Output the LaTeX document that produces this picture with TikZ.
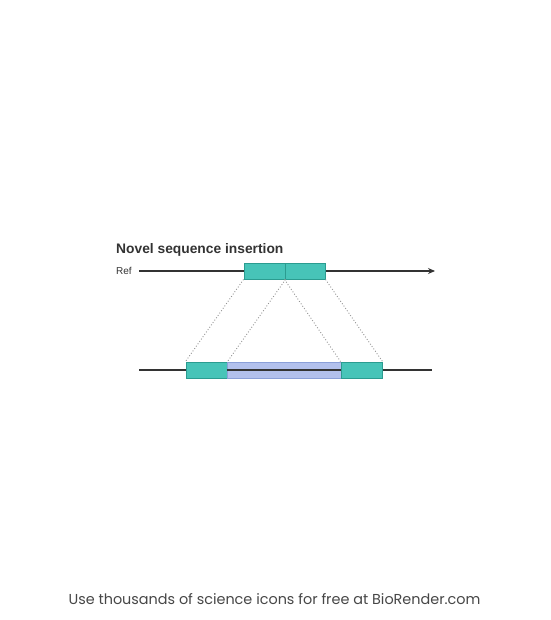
\documentclass[tikz,border=0pt]{standalone}
\usepackage{fontspec}
\setmainfont{Liberation Sans}
\newfontfamily\footfont{Poppins}
\usetikzlibrary{arrows.meta}
\definecolor{tealfill}{HTML}{47C4B8}
\definecolor{tealedge}{HTML}{2B9C90}
\definecolor{bluefill}{HTML}{B2C0EC}
\definecolor{blueedge}{HTML}{8A9FD8}
\definecolor{ink}{HTML}{333333}
\begin{document}
\begin{tikzpicture}[x=1pt,y=-1pt,
  tealbox/.style={draw=tealedge,fill=tealfill,line width=1pt,inner sep=0pt,minimum height=16pt},
  bluebox/.style={draw=blueedge,fill=bluefill,line width=0.8pt,inner sep=0pt,minimum height=16pt},
  dna/.style={draw=ink,line width=1.2pt},
  guide/.style={draw=gray!85,dotted,line width=0.9pt}]
\useasboundingbox[fill=white] (0,0) rectangle (550,620);
% title and label
\node[anchor=west,font=\bfseries\fontsize{13.8}{15}\selectfont,text=ink,inner sep=0pt] (title) at (116,250) {Novel sequence insertion};
\node[anchor=west,font=\fontsize{10}{11}\selectfont,text=ink,inner sep=0pt] (ref) at (116,271) {Ref};
% reference line
\coordinate (refstart) at (139,271);
\coordinate (refend) at (435,271);
\draw[dna,-{Stealth[length=7pt,width=6pt]}] (refstart) -- (refend);
% top boxes
\node[tealbox,minimum width=41pt] (ta) at (264.5,271) {};
\node[tealbox,minimum width=40pt] (tb) at (305,271) {};
% bottom line
\coordinate (bl) at (139,370);
\coordinate (br) at (432,370);
\draw[dna] (bl) -- (br);
% bottom boxes
\node[tealbox,minimum width=41pt] (ba) at (206.5,370) {};
\node[bluebox,minimum width=114pt] (bm) at (284,370) {};
\node[tealbox,minimum width=41pt] (bb) at (361.5,370) {};
\draw[dna] (bm.west) -- (bm.east);
% guide lines
\draw[guide] (ta.south west) -- (ba.north west);
\draw[guide] (ta.south east) -- (ba.north east);
\draw[guide] (tb.south west) -- (bb.north west);
\draw[guide] (tb.south east) -- (bb.north east);
% footer
\node[font=\footfont\fontsize{14.4}{17}\selectfont,text=ink!90,inner sep=0pt] (foot) at (274.5,599) {Use thousands of science icons for free at BioRender.com};
\end{tikzpicture}
\end{document}
